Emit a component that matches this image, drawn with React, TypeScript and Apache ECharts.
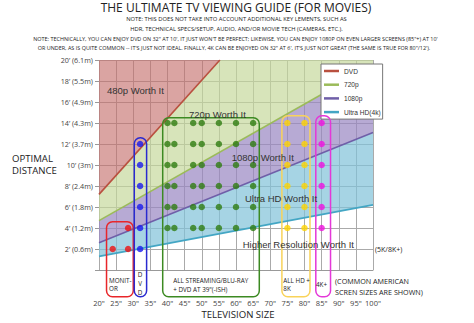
import React, { useEffect, useRef } from 'react';
import * as echarts from 'echarts';

const TITLE = 'THE ULTIMATE TV VIEWING GUIDE (FOR MOVIES)';
const NOTES_TOP = [
  'NOTE: THIS DOES NOT TAKE INTO ACCOUNT ADDITIONAL KEY LEMENTS, SUCH AS',
  'HDR, TECHNICAL SPECS/SETUP, AUDIO, AND/OR MOVIE TECH (CAMERAS, ETC.).',
];
const NOTES_WIDE = [
  'NOTE: TECHNICALLY, YOU CAN ENJOY DVD ON 32" AT 10\', IT JUST WON\'T BE PERFECT; LIKEWISE, YOU CAN ENJOY 1080P ON EVEN LARGER SCREENS (85"+) AT 10\'',
  'OR UNDER, AS IS QUITE COMMON -- IT\'S JUST NOT IDEAL. FINALLY, 4K CAN BE ENJOYED ON 32" AT 6\', IT\'S JUST NOT GREAT (THE SAME IS TRUE FOR 80"/12\').',
];

const Y_TICK_LABELS: Record<number, string> = {
  2: '2’ (0.6m)', 4: '4’ (1.2m)', 6: '6’ (1.8m)', 8: '8’ (2.4m)', 10: '10’ (3m)',
  12: '12’ (3.7m)', 14: '14’ (4.3m)', 16: '16’ (4.9m)', 18: '18’ (5.5m)', 20: '20’ (6.1m)',
};

// boundary lines [screen size in inches, distance in feet]
const dvdLine = [[20, 7.2], [55.3, 20]];
const line720 = [[20, 4.7], [100, 19.5]];
const line1080 = [[20, 2.6], [100, 13.1]];
const lineUHD = [[20, 1.3], [100, 6.2]];

const monitorPoints = [[24, 2], [28.5, 2], [28.5, 4]];
const dvdSizes = [32];
const dvdDistances = [2, 4, 6, 8, 10, 12];
const streamingSizes = [40, 42, 47.5, 50, 55, 60, 65];
const streamingDistances = [4, 6, 8, 10, 12, 14];
const hdSizes = [75, 80];
const hdDistances = [4, 6, 8, 10, 12, 14];
const k4Sizes = [85];
const k4Distances = [4, 6, 8, 10, 12, 14];

// boxes: [left size, right size, top distance, bottom distance]
const monitorBox = [22.2, 30.0, 4.6, -2.55];
const dvdBox = [30.3, 33.9, 12.6, -2.55];
const streamingBox = [38.6, 66.8, 14.5, -2.55];
const hdBox = [73.4, 81.6, 14.7, -2.55];
const k4Box = [83.3, 87.6, 14.7, -2.55];

const cross = (sizes: number[], dists: number[]) => {
  const out: number[][] = [];
  sizes.forEach((s) => dists.forEach((d) => out.push([s, d])));
  return out;
};

const C = {
  dvd: '#b9503f',
  p720: '#9bbb59',
  p1080: '#6f5fa8',
  uhd: '#43a6c4',
};

export default function App() {
  const ref = useRef<HTMLDivElement>(null);
  useEffect(() => {
    if (!ref.current) return;
    const chart = echarts.init(ref.current, undefined, { renderer: 'svg' });

    const bands = [
      { pts: [dvdLine[0], dvdLine[1], [20, 20]], color: 'rgba(196,108,105,0.62)' },
      { pts: [line720[0], line720[1], [100, 20], dvdLine[1], dvdLine[0]], color: 'rgba(196,215,154,0.68)' },
      { pts: [line1080[0], line1080[1], line720[1], line720[0]], color: 'rgba(152,134,194,0.7)' },
      { pts: [lineUHD[0], lineUHD[1], line1080[1], line1080[0]], color: 'rgba(128,194,217,0.7)' },
    ];

    const boxes = [
      { b: monitorBox, color: '#e8262a' },
      { b: dvdBox, color: '#2a2ad0' },
      { b: streamingBox, color: '#3c8a22' },
      { b: hdBox, color: '#f9d35a' },
      { b: k4Box, color: '#e438d8' },
    ];

    const t = (text: string, x: number, y: number, size: number, extra: any = {}) => ({
      type: 'text',
      x,
      y,
      z: 100,
      silent: true,
      style: {
        text,
        fontSize: size,
        fontFamily: extra.font || 'Open Sans',
        fill: extra.fill || '#222',
        textAlign: extra.align || 'left',
        textVerticalAlign: 'middle',
      },
    });

    const lineSeries = (name: string, data: number[][], color: string) => ({
      name,
      type: 'line',
      data,
      color,
      symbol: 'none',
      lineStyle: { color, width: 1.6 },
      z: 3,
      silent: true,
    });

    const dots = (data: number[][], color: string) => ({
      type: 'scatter',
      data,
      symbolSize: 6.5,
      itemStyle: { color },
      z: 5,
      silent: true,
    });

    const annot = { font: 'Liberation Sans', fill: '#333' };

    chart.setOption({
      animation: false,
      grid: { left: 99, right: 101, top: 60, bottom: 53 },
      xAxis: {
        type: 'value',
        min: 20,
        max: 100,
        interval: 5,
        axisLine: { show: true, lineStyle: { color: '#999' } },
        axisTick: { show: false },
        axisLabel: {
          margin: 29,
          fontSize: 7.5,
          color: '#444',
          fontFamily: 'Open Sans',
          formatter: (v: number) => `${v}"`,
        },
        splitLine: { show: true, lineStyle: { color: '#aaa', width: 1 } },
      },
      yAxis: {
        type: 'value',
        min: 0,
        max: 20,
        interval: 2,
        axisLine: { show: false },
        axisTick: { show: true, length: 4, lineStyle: { color: '#999' } },
        axisLabel: {
          margin: 6,
          fontSize: 7.2,
          color: '#444',
          fontFamily: 'Open Sans',
          formatter: (v: number) => Y_TICK_LABELS[v] ?? '',
        },
        splitLine: { show: true, lineStyle: { color: '#aaa', width: 1 } },
      },
      legend: {
        orient: 'vertical',
        left: 321,
        top: 64,
        backgroundColor: '#fff',
        borderColor: '#777',
        borderWidth: 1,
        borderRadius: 0,
        padding: [3.5, 2, 3.5, 3],
        itemGap: 6.7,
        itemWidth: 15,
        itemHeight: 2.5,
        icon: 'rect',
        textStyle: { fontSize: 6.6, color: '#333', fontFamily: 'Liberation Sans' },
        data: ['DVD', '720p', '1080p', 'Ultra HD(4k)'],
      },
      graphic: [
        t(TITLE, 236, 7.5, 12, { align: 'center' }),
        t(NOTES_TOP[0], 236.5, 19, 5.8, { align: 'center' }),
        t(NOTES_TOP[1], 236.5, 28.7, 5.8, { align: 'center' }),
        t(NOTES_WIDE[0], 235.5, 38.7, 5.45, { align: 'center' }),
        t(NOTES_WIDE[1], 234, 47.7, 5.45, { align: 'center' }),
        t('OPTIMAL', 12, 158, 9.6),
        t('DISTANCE', 12, 170.7, 9.6),
        t('TELEVISION SIZE', 238, 314, 9.6, { align: 'center' }),
        t('480p Worth It', 107, 90.7, 9.5, annot),
        t('720p Worth It', 189, 114, 9.5, annot),
        t('1080p Worth It', 231.7, 157.3, 9.5, annot),
        t('Ultra HD Worth It', 245, 198.3, 9.5, annot),
        t('Higher Resolution Worth It', 242.7, 244, 9.5, annot),
        t('(5K/8K+)', 375, 249, 7),
        t('MONIT-', 109, 280, 6.3),
        t('OR', 109, 288.3, 6.3),
        t('D', 140, 274.3, 6.3, { align: 'center' }),
        t('V', 140, 283.3, 6.3, { align: 'center' }),
        t('D', 140, 292.3, 6.3, { align: 'center' }),
        t('ALL STREAMING/BLU-RAY', 173.3, 280.7, 6.3),
        t('+ DVD AT 39"(-ISH)', 173.3, 289, 6.3),
        t('ALL HD +', 283.3, 280, 6.3),
        t('8K', 283.3, 288.3, 6.3),
        t('4K+', 316, 284, 6.3),
        t('(COMMON AMERICAN', 335, 280.7, 7.2),
        t('SCREN SIZES ARE SHOWN)', 335, 291.7, 7.2),
      ],
      series: [
        {
          type: 'custom',
          data: bands.map((_, i) => [i]),
          silent: true,
          z: 1,
          renderItem: (params: any, api: any) => {
            const band = bands[params.dataIndex];
            return {
              type: 'polygon',
              shape: { points: band.pts.map((p) => api.coord(p)) },
              style: { fill: band.color },
            };
          },
        },
        lineSeries('DVD', dvdLine, C.dvd),
        lineSeries('720p', line720, C.p720),
        lineSeries('1080p', line1080, C.p1080),
        lineSeries('Ultra HD(4k)', lineUHD, C.uhd),
        dots(monitorPoints, '#ee1111'),
        dots(cross(dvdSizes, dvdDistances), '#1a1aee'),
        dots(cross(streamingSizes, streamingDistances), '#2f7d12'),
        dots(cross(hdSizes, hdDistances), '#ffd400'),
        dots(cross(k4Sizes, k4Distances), '#f010e0'),
        {
          type: 'custom',
          data: boxes.map((bx) => bx.b),
          silent: true,
          z: 6,
          clip: false,
          renderItem: (params: any, api: any) => {
            const bx = boxes[params.dataIndex];
            const p1 = api.coord([bx.b[0], bx.b[2]]);
            const p2 = api.coord([bx.b[1], bx.b[3]]);
            return {
              type: 'rect',
              shape: { x: p1[0], y: p1[1], width: p2[0] - p1[0], height: p2[1] - p1[1], r: 6 },
              style: { fill: 'none', stroke: bx.color, lineWidth: 1.5 },
            };
          },
        },
      ],
    });
    return () => chart.dispose();
  }, []);
  return (
    <div
      ref={ref}
      style={{ position: 'fixed', left: 0, top: 0, width: 474, height: 323, background: '#fff' }}
    />
  );
}
